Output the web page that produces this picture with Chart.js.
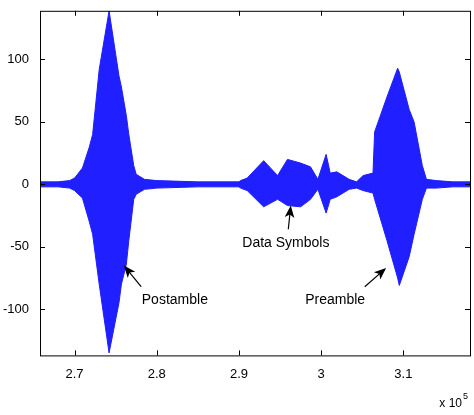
<!DOCTYPE html>
<html><head><meta charset="utf-8">
<script src="https://cdn.jsdelivr.net/npm/chart.js@4.4.0/dist/chart.umd.min.js"></script>
<style>html,body{margin:0;background:#fff}#w{width:474px;height:415px}</style>
</head><body><div id="w"><canvas id="c"></canvas></div>
<script>
const sampleX = [2.658,2.680,2.694,2.700,2.7096,2.718,2.722,2.730,2.742,2.754,2.757,2.763,2.766,2.772,2.775,2.785,2.800,2.850,2.900,2.902,2.910,2.930,2.947,2.959,2.975,2.987,2.996,3.006,3.011,3.019,3.034,3.043,3.051,3.063,3.065,3.080,3.093,3.095,3.107,3.113,3.123,3.128,3.140,3.160,3.181];
const upperEnv = [2,2,3,5,13,30,40,92,139,87,78,55,40,15,8,4,3,2,2,3,5,19,7,20,17,14,4,24,9,10,4,2,7,9,42,70,93,90,60,50,15,4,3,2,2];
const lowerEnv = [-2,-2,-3,-5,-11,-30,-40,-80,-135,-95,-80,-64,-45,-12,-8,-4,-3,-2,-2,-3,-5,-18,-12,-17,-18,-12,-4,-23,-12,-10,-4,-3,-5,-7,-12,-45,-75,-81,-58,-40,-12,-3,-3,-2,-2];
const xTicks = [2.7,2.8,2.9,3.0,3.1];
const yTicks = [-100,-50,0,50,100];
const notes = [
  {text:'Postamble', tx:2.760, ty:-65, sx:2.781, sy:-82, lx:2.822, ly:-93},
  {text:'Data Symbols', tx:2.963, ty:-17, sx:2.960, sy:-36, lx:2.957, ly:-47},
  {text:'Preamble', tx:3.079, ty:-67, sx:3.053, sy:-82, lx:3.017, ly:-93}
];
const blue='#1f1fff';
const up = sampleX.map((x,i)=>({x, y:upperEnv[i]}));
const lo = sampleX.map((x,i)=>({x, y:lowerEnv[i]}));
const annot = {id:'annot', afterDatasetsDraw(ch){
  const c=ch.ctx, xs=ch.scales.x, ys=ch.scales.y, a=ch.chartArea;
  c.save();
  c.strokeStyle='#000'; c.lineWidth=1; c.strokeRect(a.left+0.5,a.top+0.5,a.right-a.left,a.bottom-a.top);
  xTicks.forEach(v=>{const p=Math.round(xs.getPixelForValue(v))+0.5;c.beginPath();c.moveTo(p,a.bottom);c.lineTo(p,a.bottom-5);c.moveTo(p,a.top);c.lineTo(p,a.top+5);c.stroke();});
  yTicks.forEach(v=>{const p=Math.round(ys.getPixelForValue(v))+0.5;c.beginPath();c.moveTo(a.left,p);c.lineTo(a.left+5,p);c.moveTo(a.right,p);c.lineTo(a.right-5,p);c.stroke();});
  c.font='14px "Liberation Sans", Arial'; c.fillStyle='#000'; c.textAlign='center'; c.textBaseline='middle';
  notes.forEach(n=>{
    const tx=xs.getPixelForValue(n.tx), ty=ys.getPixelForValue(n.ty);
    const sx=xs.getPixelForValue(n.sx), sy=ys.getPixelForValue(n.sy);
    c.fillText(n.text, xs.getPixelForValue(n.lx), ys.getPixelForValue(n.ly));
    const ang=Math.atan2(ty-sy,tx-sx);
    c.beginPath();c.moveTo(sx,sy);c.lineTo(tx-Math.cos(ang)*4,ty-Math.sin(ang)*4);c.lineWidth=1.2;c.stroke();
    c.beginPath();c.moveTo(tx,ty);
    c.lineTo(tx-13*Math.cos(ang-0.38),ty-13*Math.sin(ang-0.38));
    c.lineTo(tx-9*Math.cos(ang),ty-9*Math.sin(ang));
    c.lineTo(tx-13*Math.cos(ang+0.38),ty-13*Math.sin(ang+0.38));c.closePath();c.fill();
  });
  c.font='12px "Liberation Sans", Arial'; c.textAlign='right';c.textBaseline='alphabetic';
  c.fillText('x 10',a.right-8,a.bottom+52);
  c.font='9px "Liberation Sans", Arial'; c.textAlign='left';
  c.fillText('5',a.right-7,a.bottom+44);
  c.restore();
}};
new Chart(document.getElementById('c'),{
  type:'line',
  data:{datasets:[
    {data:up, borderColor:blue, backgroundColor:blue, borderWidth:1, pointRadius:0, fill:false, tension:0},
    {data:lo, borderColor:blue, backgroundColor:blue, borderWidth:1, pointRadius:0, fill:'-1', tension:0}
  ]},
  options:{responsive:true, maintainAspectRatio:false, animation:false,
    layout:{padding:{left:0,right:4,top:7,bottom:30}},
    plugins:{legend:{display:false},tooltip:{enabled:false}},
    scales:{
      x:{type:'linear',min:2.658,max:3.181,
        afterBuildTicks(s){s.ticks=xTicks.map(v=>({value:v}));},
        ticks:{color:'#000',font:{family:'"Liberation Sans", Arial',size:13},callback:v=>String(Math.round(v*10)/10),maxRotation:0},
        grid:{display:false},border:{display:false}},
      y:{min:-137,max:139,
        afterBuildTicks(s){s.ticks=yTicks.map(v=>({value:v}));},
        ticks:{color:'#000',font:{family:'"Liberation Sans", Arial',size:13}},
        grid:{display:false},border:{display:false}}
    }},
  plugins:[annot]
});
</script></body></html>
